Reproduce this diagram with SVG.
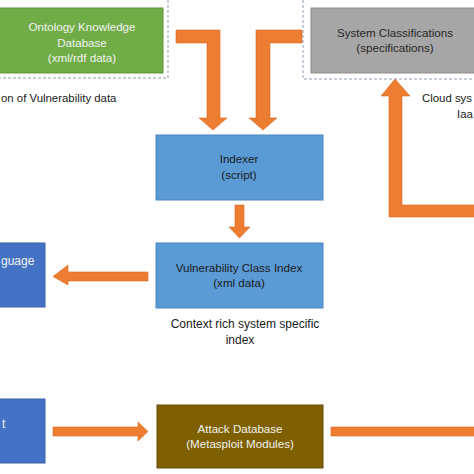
<svg xmlns="http://www.w3.org/2000/svg" width="474" height="474" viewBox="0 0 474 474">
<style>
.t{font-family:"Liberation Sans",Arial,sans-serif;font-size:11.6px;text-anchor:middle;fill:#f2f2f2}
.d{font-family:"Liberation Sans",Arial,sans-serif;font-size:12px;fill:#1a1a1a}
.dash{fill:none;stroke:#8e9db5;stroke-width:1;stroke-dasharray:3,2}
.ar{fill:#ED7D31;stroke:#d86a22;stroke-width:0.6}
.box{stroke-width:1}
</style>
<rect width="474" height="474" fill="#ffffff"/>
<g id="frames">
<path class="dash" d="M168,0 V78 H0"/>
<path class="dash" d="M303,0 V79 H474"/>
</g>
<g id="ontology">
<rect class="box" x="-2" y="8" width="165" height="65" fill="#70AD47" stroke="#5e9438"/>
<text class="t" x="82" y="31">Ontology Knowledge</text>
<text class="t" x="82" y="47">Database</text>
<text class="t" x="82" y="62">(xml/rdf data)</text>
</g>
<g id="system">
<rect class="box" x="311" y="8" width="170" height="65" fill="#A6A6A6" stroke="#8a8a8a"/>
<text class="t" x="395" y="37" style="fill:#262626">System Classifications</text>
<text class="t" x="395" y="52" style="fill:#262626">(specifications)</text>
</g>
<g id="indexer">
<rect class="box" x="156" y="135" width="167" height="65" fill="#5B9BD5" stroke="#4a86bd"/>
<text class="t" x="239" y="163" style="fill:#1a1a1a">Indexer</text>
<text class="t" x="239" y="179" style="fill:#1a1a1a">(script)</text>
</g>
<g id="vci">
<rect class="box" x="156" y="243" width="167" height="65" fill="#5B9BD5" stroke="#4a86bd"/>
<text class="t" x="239" y="272" style="fill:#1a1a1a">Vulnerability Class Index</text>
<text class="t" x="239" y="287" style="fill:#1a1a1a">(xml data)</text>
</g>
<g id="language">
<rect class="box" x="-5" y="243" width="50" height="64" fill="#4472C4" stroke="#3a62a8"/>
<text class="d" x="1" y="265" style="fill:#f2f2f2">guage</text>
</g>
<g id="script">
<rect class="box" x="-5" y="399" width="50" height="64" fill="#4472C4" stroke="#3a62a8"/>
<text class="d" x="2" y="428" style="fill:#f2f2f2">t</text>
</g>
<g id="attack">
<rect class="box" x="157" y="405" width="166" height="63" fill="#7F6000" stroke="#6b5100"/>
<text class="t" x="240" y="433">Attack Database</text>
<text class="t" x="240" y="448">(Metasploit Modules)</text>
</g>
<g id="labels">
<text class="d" x="1" y="102" style="font-size:11.4px">on of Vulnerability data</text>
<text class="d" x="422" y="102" style="font-size:11.4px">Cloud sys</text>
<text class="d" x="457" y="118" style="font-size:11.4px">Iaa</text>
<text class="d" x="245" y="328" text-anchor="middle">Context rich system specific</text>
<text class="d" x="240" y="344" text-anchor="middle">index</text>
</g>
<g id="connectors">
<path class="ar" d="M176,30 H220 V118 H227 L213,130 L199,118 H207 V43 H176 Z"/>
<path class="ar" d="M302,30 H256 V118 H249 L263,130 L277,118 H270 V43 H302 Z"/>
<path class="ar" d="M235,205 H244 V227 H250 L239.5,238 L229,227 H235 Z"/>
<path class="ar" d="M148,272 V281 H68 V285 L53,276.5 L68,265 V272 Z"/>
<path class="ar" d="M53,427 H138 V422 L148,431.5 L138,441 V436 H53 Z"/>
<path class="ar" d="M331,427 H476 V436 H331 Z"/>
<path class="ar" d="M476,205 H402 V96 H410 L395,79 L381,96 H389 V217 H476 Z"/>
</g>
</svg>
